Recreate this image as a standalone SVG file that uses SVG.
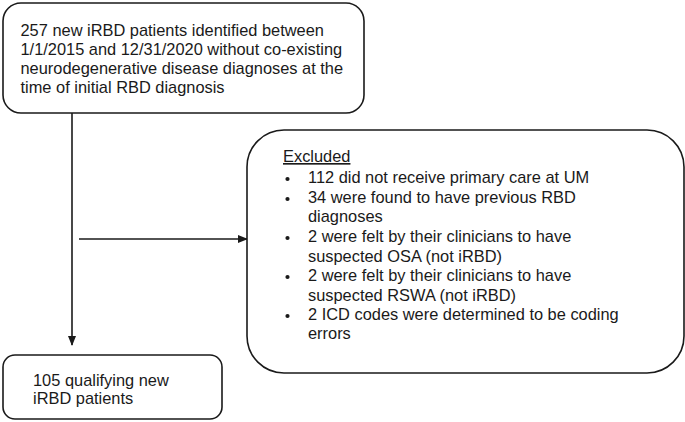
<svg xmlns="http://www.w3.org/2000/svg" width="685" height="422" viewBox="0 0 685 422">
<style>
.box{fill:#fff;stroke:#1a1a1a;stroke-width:1.6}
.t{font-family:"Liberation Sans",Arial,sans-serif;font-size:16.4px;fill:#1a1a1a}
.c{stroke:#1a1a1a;stroke-width:1.6;fill:none}
.b{fill:#1a1a1a}
</style>
<defs>
<marker id="ah" markerWidth="10" markerHeight="8" refX="9" refY="4" orient="auto" markerUnits="userSpaceOnUse">
<path d="M0,0 L10,4 L0,8 Z" fill="#1a1a1a"/>
</marker>
</defs>
<rect width="685" height="422" fill="#fff"/>
<g id="connectors">
<path class="c" d="M72,113 V345" marker-end="url(#ah)"/>
<path class="c" d="M79,239 H247" marker-end="url(#ah)"/>
</g>
<g id="node-start">
<rect class="box" x="3" y="3" width="361" height="110" rx="18" ry="18"/>
<text class="t" x="20.5" y="36">257 new iRBD patients identified between</text>
<text class="t" x="20.5" y="55">1/1/2015 and 12/31/2020 without co-existing</text>
<text class="t" x="20.5" y="74">neurodegenerative disease diagnoses at the</text>
<text class="t" x="20.5" y="92.5">time of initial RBD diagnosis</text>
</g>
<g id="node-excluded">
<rect class="box" x="247" y="130" width="437" height="243" rx="37" ry="37"/>
<text class="t" x="283" y="162" text-decoration="underline">Excluded</text>
<circle class="b" cx="287.5" cy="179" r="2.1"/>
<circle class="b" cx="287.5" cy="199" r="2.1"/>
<circle class="b" cx="287.5" cy="238" r="2.1"/>
<circle class="b" cx="287.5" cy="277" r="2.1"/>
<circle class="b" cx="287.5" cy="316" r="2.1"/>
<g class="t">
<text x="308" y="183">112 did not receive primary care at UM</text>
<text x="308" y="203">34 were found to have previous RBD</text>
<text x="308" y="222">diagnoses</text>
<text x="308" y="242">2 were felt by their clinicians to have</text>
<text x="308" y="262">suspected OSA (not iRBD)</text>
<text x="308" y="281">2 were felt by their clinicians to have</text>
<text x="308" y="301">suspected RSWA (not iRBD)</text>
<text x="308" y="320">2 ICD codes were determined to be coding</text>
<text x="308" y="339">errors</text>
</g>
</g>
<g id="node-final">
<rect class="box" x="3" y="355" width="219" height="64" rx="12" ry="12"/>
<text class="t" x="33" y="385.5">105 qualifying new</text>
<text class="t" x="33" y="404">iRBD patients</text>
</g>
</svg>
